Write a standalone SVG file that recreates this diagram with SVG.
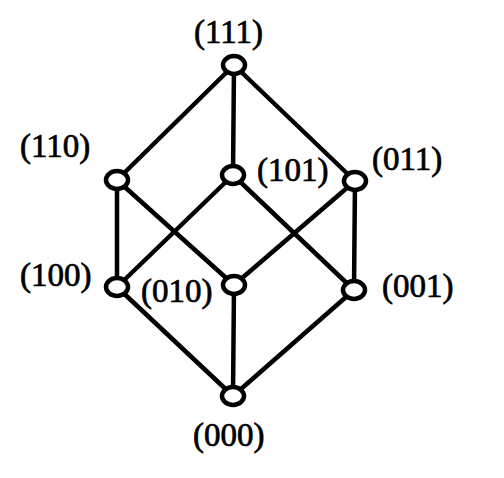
<svg xmlns="http://www.w3.org/2000/svg" width="504" height="478" viewBox="0 0 504 478">
<style>
.e{stroke:#000;stroke-width:4.5;fill:none;stroke-linecap:round}
.n{fill:#fff;stroke:#000;stroke-width:4.5}
.t{font-family:"Liberation Serif","Times New Roman",serif;font-size:33px;fill:#000;stroke:#000;stroke-width:0.7}
</style>
<rect width="504" height="478" fill="#fff"/>
<g id="connectors">
<line class="e" x1="234" y1="65" x2="117" y2="180"/>
<line class="e" x1="234" y1="65" x2="233" y2="175"/>
<line class="e" x1="234" y1="65" x2="355" y2="181"/>
<line class="e" x1="117" y1="180" x2="117" y2="287"/>
<line class="e" x1="117" y1="180" x2="234" y2="285"/>
<line class="e" x1="233" y1="175" x2="117" y2="287"/>
<line class="e" x1="233" y1="175" x2="354" y2="290"/>
<line class="e" x1="355" y1="181" x2="234" y2="285"/>
<line class="e" x1="355" y1="181" x2="354" y2="290"/>
<line class="e" x1="117" y1="287" x2="233" y2="396"/>
<line class="e" x1="234" y1="285" x2="233" y2="396"/>
<line class="e" x1="354" y1="290" x2="233" y2="396"/>
</g>
<g id="n111"><ellipse class="n" cx="234" cy="65" rx="11" ry="9"/><text class="t" x="194" y="43">(111)</text></g>
<g id="n110"><ellipse class="n" cx="117" cy="180" rx="11" ry="9"/><text class="t" x="20" y="157">(110)</text></g>
<g id="n101"><ellipse class="n" cx="233" cy="175" rx="11" ry="9"/><text class="t" x="257" y="181">(101)</text></g>
<g id="n011"><ellipse class="n" cx="355" cy="181" rx="11" ry="9"/><text class="t" x="372" y="170">(011)</text></g>
<g id="n100"><ellipse class="n" cx="117" cy="287" rx="11" ry="9"/><text class="t" x="20" y="286">(100)</text></g>
<g id="n010"><ellipse class="n" cx="234" cy="285" rx="11" ry="9"/><text class="t" x="141" y="302">(010)</text></g>
<g id="n001"><ellipse class="n" cx="354" cy="290" rx="11" ry="9"/><text class="t" x="382" y="297">(001)</text></g>
<g id="n000"><ellipse class="n" cx="233" cy="396" rx="11" ry="9"/><text class="t" x="193" y="446">(000)</text></g>
</svg>
